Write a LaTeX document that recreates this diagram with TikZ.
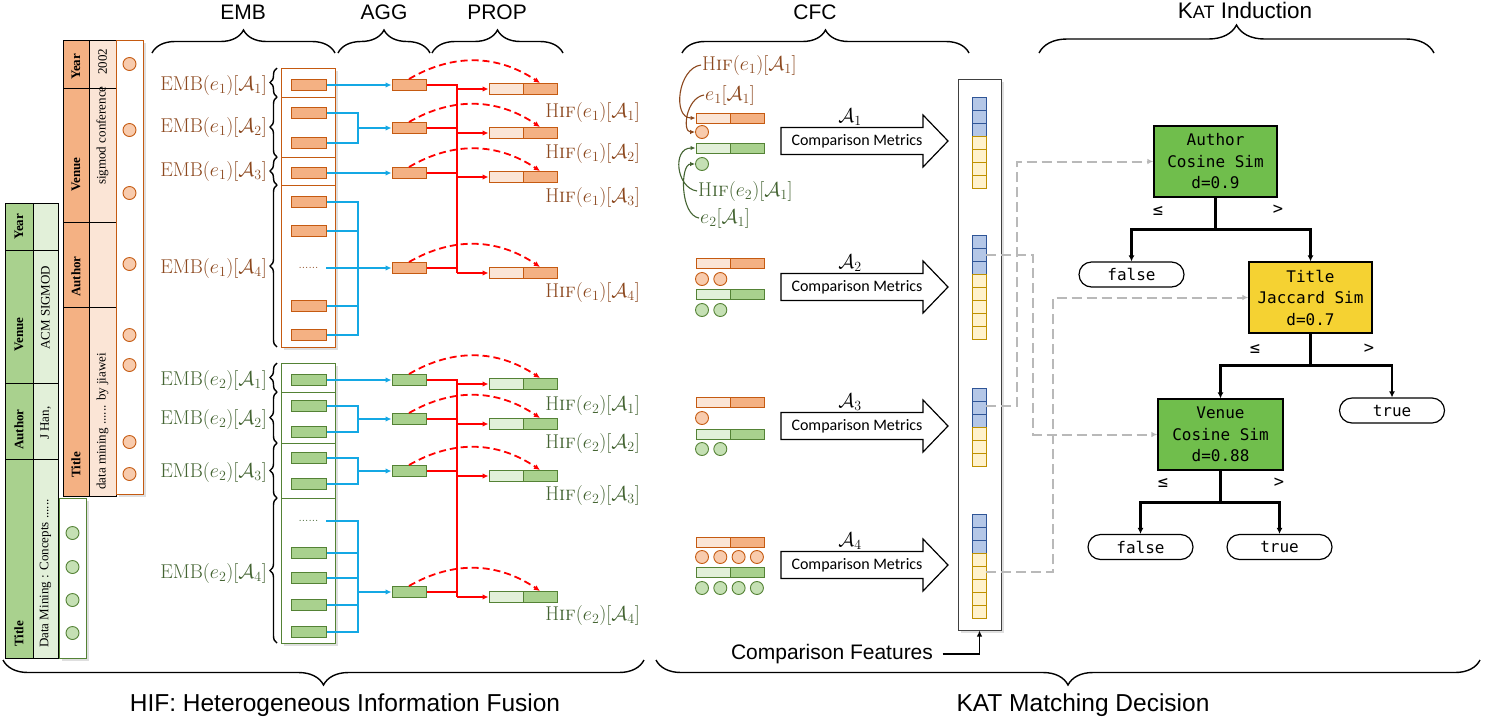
\RequirePackage{fix-cm}
\documentclass[tikz,border=0pt]{standalone}
\usepackage{fontspec}
\setsansfont{Liberation Sans}
\setmonofont{DejaVu Sans Mono}
\newfontfamily\tabfont{Liberation Serif}
\newfontfamily\metricfont{Carlito}
\usetikzlibrary{positioning,arrows.meta,decorations.pathreplacing,shadows}

\definecolor{orgfill}{RGB}{244,177,131}
\definecolor{orgline}{RGB}{197,90,17}
\definecolor{orglight}{RGB}{251,229,214}
\definecolor{orgcirc}{RGB}{248,203,173}
\definecolor{orgtext}{RGB}{140,72,30}
\definecolor{grnfill}{RGB}{169,209,142}
\definecolor{grnline}{RGB}{84,130,53}
\definecolor{grnlight}{RGB}{226,240,217}
\definecolor{grncirc}{RGB}{197,224,180}
\definecolor{grntext}{RGB}{68,100,50}
\definecolor{embblue}{RGB}{20,168,228}
\definecolor{cellblue}{RGB}{180,199,231}
\definecolor{cellblueline}{RGB}{47,85,151}
\definecolor{cellyel}{RGB}{255,242,204}
\definecolor{cellyelline}{RGB}{191,144,0}
\definecolor{treegreen}{RGB}{112,190,76}
\definecolor{treeyellow}{RGB}{245,210,50}
\definecolor{dashgray}{RGB}{185,185,185}

\begin{document}
\begin{tikzpicture}[x=1pt,y=-1pt,
    ovec/.style={draw=orgline,fill=orgfill,line width=1pt,minimum width=35pt,minimum height=11pt,inner sep=0pt},
    gvec/.style={draw=grnline,fill=grnfill,line width=1pt,minimum width=35pt,minimum height=11pt,inner sep=0pt},
    ohalf/.style={ovec,minimum width=34pt},
    ghalf/.style={gvec,minimum width=34pt},
    olite/.style={ohalf,fill=orglight},
    glite/.style={ghalf,fill=grnlight},
    vdots/.style={minimum width=35pt,inner sep=0pt,font=\fontsize{12}{12}\selectfont},
    otok/.style={circle,draw=orgline,fill=orgcirc,line width=0.9pt,minimum size=13pt,inner sep=0pt},
    gtok/.style={circle,draw=grnline,fill=grncirc,line width=0.9pt,minimum size=13pt,inner sep=0pt},
    grpbox/.style={fill=white,line width=0.9pt},
    boxshadow/.style={drop shadow={shadow xshift=2.5pt,shadow yshift=-2.5pt,opacity=0.25}},
    mlbl/.style={inner sep=1pt,font=\fontsize{20}{20}\selectfont},
    hdr/.style={font=\sffamily\fontsize{21}{21}\selectfont},
    foot/.style={font=\sffamily\fontsize{24.5}{24.5}\selectfont},
    thead/.style={rotate=90,anchor=west,inner sep=0pt,font=\tabfont\bfseries\fontsize{13}{13}\selectfont},
    tval/.style={rotate=90,anchor=west,inner sep=0pt,font=\tabfont\fontsize{13}{13}\selectfont},
    sbrace/.style={decorate,decoration={brace,amplitude=7pt},line width=1.4pt},
    hbrace/.style={decorate,decoration={brace,amplitude=23pt},line width=1.4pt},
    blue line/.style={embblue,line width=2pt},
    blue arrow/.style={blue line,-{Latex[length=6pt,width=5.5pt]}},
    red line/.style={red,line width=2.3pt},
    red arrow/.style={red,line width=1.9pt,-{Latex[length=6pt,width=5.5pt]}},
    red arc/.style={red,line width=1.8pt,dash pattern=on 7pt off 4pt,-{Latex[length=6pt,width=5.5pt]}},
    curve arrow/.style={line width=1.1pt,-{Latex[length=5pt,width=4.5pt]}},
    metric/.style={font=\metricfont\fontsize{16}{16}\selectfont,inner sep=0pt},
    bcell/.style={draw=cellblueline,fill=cellblue,line width=0.9pt},
    ycell/.style={draw=cellyelline,fill=cellyel,line width=0.9pt},
    testnode/.style={draw,line width=1.2pt,minimum width=123pt,minimum height=71pt,align=center,font=\ttfamily\fontsize{16}{21.5}\selectfont},
    leaf/.style={draw,fill=white,rounded corners=12.5pt,minimum width=105pt,minimum height=25pt,line width=1.2pt,font=\ttfamily\fontsize{16}{16}\selectfont},
    branch/.style={line width=2.6pt,-{Latex[length=6pt,width=6pt]}},
    cmp/.style={font=\ttfamily\fontsize{17}{17}\selectfont},
    feat/.style={dashgray,line width=2pt,dash pattern=on 10pt off 5pt,-{Latex[length=6pt,width=5.5pt]}}
  ]
  \fill[white] (0,0) rectangle (1485,721);
  \useasboundingbox (0,0) rectangle (1485,721);

  % Headers and braces
  \node[hdr] (hemb) at (243,12) {EMB};
  \node[hdr] (hagg) at (384,12) {AGG};
  \node[hdr] (hprop) at (497,12) {PROP};
  \node[hdr] (hcfc) at (815,12) {CFC};
  \node[hdr,font=\sffamily\fontsize{22.5}{22.5}\selectfont] (hkat) at (1245,10) {K{\fontsize{18}{18}\selectfont AT} Induction};
  \draw[hbrace] (152,53) -- (335,53);
  \draw[hbrace] (338,53) -- (430,53);
  \draw[hbrace] (432,53) -- (563,53);
  \draw[hbrace] (682,53) -- (969,53);
  \draw[hbrace,decoration={amplitude=28pt}] (1039,53) -- (1434,53);
  \draw[hbrace,decoration={amplitude=25pt}] (644,660) -- (3,660);
  \draw[hbrace,decoration={amplitude=25pt}] (1480,660) -- (656,660);
  \node[foot] (fhif) at (345,705) {HIF: Heterogeneous Information Fusion};
  \node[foot] (fkat) at (1083,705) {KAT Matching Decision};

  % Table of e1
  \draw[fill=orgfill,line width=1pt] (63,40) rectangle (89,496);
  \draw[fill=orglight,line width=1pt] (89,40) rectangle (116,496);
  \foreach \yy in {88,222,307} \draw[line width=1pt] (63,\yy) -- (116,\yy);
  \draw[draw=orgline,grpbox,boxshadow] (116,40) rectangle (143,494);
  \node[thead] (ohyear) at (76,80) {Year};
  \node[thead] (ohvenue) at (76,192) {Venue};
  \node[thead] (ohauthor) at (76,297) {Author};
  \node[thead] (ohtitle) at (76,478) {Title};
  \node[tval] (ovyear) at (102.5,75) {2002};
  \node[tval] (ovvenue) at (102.5,185) {sigmod conference};
  \node[tval] (ovtitle) at (102.5,490) {data mining ...... by jiawei};
  \foreach \yy [count=\k] in {64,130,193,264,335,365,442,474}
    \node[otok] (otok\k) at (129.5,\yy) {};

  % Table of e2
  \draw[fill=grnfill,line width=1pt] (5,203) rectangle (33,658);
  \draw[fill=grnlight,line width=1pt] (33,203) rectangle (58,658);
  \foreach \yy in {250,383,459} \draw[line width=1pt] (5,\yy) -- (58,\yy);
  \draw[draw=grnline,grpbox,boxshadow] (59,498) rectangle (86,658);
  \node[thead] (ghyear) at (19,240) {Year};
  \node[thead] (ghvenue) at (19,352) {Venue};
  \node[thead] (ghauthor) at (19,450) {Author};
  \node[thead] (ghtitle) at (19,647) {Title};
  \node[tval] (gvvenue) at (45.5,350) {ACM SIGMOD};
  \node[tval] (gvauthor) at (45.5,440) {J Han,};
  \node[tval] (gvtitle) at (45.5,648) {Data Mining : Concepts ......};
  \foreach \yy [count=\k] in {533,567,600,633}
    \node[gtok] (gtok\k) at (72.5,\yy) {};

  % EMB of e1
  \draw[draw=orgline,grpbox,boxshadow] (281,68) rectangle (335,347);
  \draw[draw=orgline,line width=0.9pt] (281,68) rectangle (335,97) (281,97) rectangle (335,157)
    (281,157) rectangle (335,185) (281,185) rectangle (335,347);
  \node[ovec] (eo11) at (308.5,85) {};
  \node[ovec] (eo21) at (308.5,113) {};
  \node[ovec] (eo22) at (308.5,143) {};
  \node[ovec] (eo31) at (308.5,173) {};
  \node[ovec] (eo41) at (308.5,202) {};
  \node[ovec] (eo42) at (308.5,231) {};
  \node[vdots,text=orgtext] (eo4d) at (308.5,268) {......};
  \node[ovec] (eo43) at (308.5,306) {};
  \node[ovec] (eo44) at (308.5,335) {};
  \draw[sbrace] (277,97) -- (277,68);
  \draw[sbrace] (277,157) -- (277,97);
  \draw[sbrace] (277,185) -- (277,157);
  \draw[sbrace] (277,347) -- (277,185);
  \node[mlbl,anchor=east,text=orgtext] (lo1) at (268,85) {EMB$(e_1)[\mathcal{A}_1]$};
  \node[mlbl,anchor=east,text=orgtext] (lo2) at (268,127) {EMB$(e_1)[\mathcal{A}_2]$};
  \node[mlbl,anchor=east,text=orgtext] (lo3) at (268,171) {EMB$(e_1)[\mathcal{A}_3]$};
  \node[mlbl,anchor=east,text=orgtext] (lo4) at (268,268) {EMB$(e_1)[\mathcal{A}_4]$};

  % EMB of e2
  \draw[draw=grnline,grpbox,boxshadow] (281,363) rectangle (335,643);
  \draw[draw=grnline,line width=0.9pt] (281,363) rectangle (335,392) (281,392) rectangle (335,443)
    (281,443) rectangle (335,498) (281,498) rectangle (335,643);
  \node[gvec] (eg11) at (308.5,380) {};
  \node[gvec] (eg21) at (308.5,406) {};
  \node[gvec] (eg22) at (308.5,432) {};
  \node[gvec] (eg31) at (308.5,458) {};
  \node[gvec] (eg32) at (308.5,484) {};
  \node[vdots,text=grntext] (eg4d) at (308.5,521) {......};
  \node[gvec] (eg41) at (308.5,553) {};
  \node[gvec] (eg42) at (308.5,578) {};
  \node[gvec] (eg43) at (308.5,605) {};
  \node[gvec] (eg44) at (308.5,632) {};
  \draw[sbrace] (277,392) -- (277,363);
  \draw[sbrace] (277,443) -- (277,392);
  \draw[sbrace] (277,498) -- (277,443);
  \draw[sbrace] (277,643) -- (277,498);
  \node[mlbl,anchor=east,text=grntext] (lg1) at (268,380) {EMB$(e_2)[\mathcal{A}_1]$};
  \node[mlbl,anchor=east,text=grntext] (lg2) at (268,419) {EMB$(e_2)[\mathcal{A}_2]$};
  \node[mlbl,anchor=east,text=grntext] (lg3) at (268,472) {EMB$(e_2)[\mathcal{A}_3]$};
  \node[mlbl,anchor=east,text=grntext] (lg4) at (268,573) {EMB$(e_2)[\mathcal{A}_4]$};

  % AGG
  \node[ohalf] (ao1) at (409,85) {};
  \node[ohalf] (ao2) at (409,128) {};
  \node[ohalf] (ao3) at (409,173) {};
  \node[ohalf] (ao4) at (409,268) {};
  \node[ghalf] (ag1) at (409,380) {};
  \node[ghalf] (ag2) at (409,419) {};
  \node[ghalf] (ag3) at (409,471) {};
  \node[ghalf] (ag4) at (409,592) {};
  \coordinate (jo2) at (358,128);
  \coordinate (jo4) at (358,268);
  \coordinate (jg2) at (358,419);
  \coordinate (jg3) at (358,471);
  \coordinate (jg4) at (358,592);
  \draw[blue arrow] (eo11.east) -- (ao1.west);
  \draw[blue arrow] (eo31.east) -- (ao3.west);
  \draw[blue arrow] (eg11.east) -- (ag1.west);
  \foreach \r in {eo21,eo22} \draw[blue line] (\r.east) -| (jo2);
  \foreach \r in {eo41,eo42,eo4d,eo43,eo44} \draw[blue line] (\r.east) -| (jo4);
  \foreach \r in {eg21,eg22} \draw[blue line] (\r.east) -| (jg2);
  \foreach \r in {eg31,eg32} \draw[blue line] (\r.east) -| (jg3);
  \foreach \r in {eg4d,eg41,eg42,eg43,eg44} \draw[blue line] (\r.east) -| (jg4);
  \draw[blue arrow] (jo2) -- (ao2.west);
  \draw[blue arrow] (jo4) -- (ao4.west);
  \draw[blue arrow] (jg2) -- (ag2.west);
  \draw[blue arrow] (jg3) -- (ag3.west);
  \draw[blue arrow] (jg4) -- (ag4.west);

  % PROP
  \foreach \yy [count=\i] in {89,133,177,273} {
    \node[olite] (pol\i) at (506,\yy) {};
    \node[ohalf] (por\i) at (540,\yy) {};
  }
  \foreach \yy [count=\i] in {384,424,476,597} {
    \node[glite] (pgl\i) at (506,\yy) {};
    \node[ghalf] (pgr\i) at (540,\yy) {};
  }
  \coordinate (rto) at (457,273);
  \coordinate (rtg) at (457,597);
  \foreach \i in {1,...,4} {
    \draw[red line] (ao\i.east) -| (rto);
    \draw[red arrow] (pol\i.west -| rto) -- (pol\i.west);
    \draw[red arc] (ao\i.north) to[bend left=32] (por\i.north);
    \draw[red line] (ag\i.east) -| (rtg);
    \draw[red arrow] (pgl\i.west -| rtg) -- (pgl\i.west);
    \draw[red arc] (ag\i.north) to[bend left=32] (pgr\i.north);
  }
  \foreach \yy [count=\i] in {112,153,197,292}
    \node[mlbl,anchor=east,text=orgtext] (ho\i) at (641,\yy) {H\textsc{if}$(e_1)[\mathcal{A}_{\i}]$};
  \foreach \yy [count=\i] in {405,443,495,615}
    \node[mlbl,anchor=east,text=grntext] (hg\i) at (641,\yy) {H\textsc{if}$(e_2)[\mathcal{A}_{\i}]$};

  % CFC
  \foreach \yo/\yt/\yg/\yu/\no/\ng [count=\a] in {118/132/148/164/1/1,263/279/294/310/2/2,402/418/434/449/1/2,542/557/572/588/4/4} {
    \node[olite,minimum height=10pt] (cfol\a) at (713,\yo) {};
    \node[ohalf,minimum height=10pt] (cfor\a) at (747,\yo) {};
    \node[glite,minimum height=10pt] (cfgl\a) at (713,\yg) {};
    \node[ghalf,minimum height=10pt] (cfgr\a) at (747,\yg) {};
    \foreach \k in {1,...,\no} \node[otok] (cto\a-\k) at ({702+18.3*(\k-1)},\yt) {};
    \foreach \k in {1,...,\ng} \node[gtok] (ctg\a-\k) at ({702+18.3*(\k-1)},\yu) {};
  }
  \node[mlbl,anchor=west,text=orgtext] (ch1) at (701,65) {H\textsc{if}$(e_1)[\mathcal{A}_1]$};
  \node[mlbl,anchor=west,text=orgtext] (cx1) at (704,95) {$e_1[\mathcal{A}_1]$};
  \node[mlbl,anchor=west,text=grntext] (ch2) at (697,191) {H\textsc{if}$(e_2)[\mathcal{A}_1]$};
  \node[mlbl,anchor=west,text=grntext] (cx2) at (699,218) {$e_2[\mathcal{A}_1]$};
  \draw[curve arrow,orgtext] (ch1.west) .. controls (678,68) and (672,118) .. (cfol1.west);
  \draw[curve arrow,orgtext] (cx1.west) .. controls (686,98) and (682,132) .. (cto1-1.west);
  \draw[curve arrow,grntext] (ch2.west) .. controls (676,188) and (672,148) .. (cfgl1.west);
  \draw[curve arrow,grntext] (cx2.west) .. controls (680,215) and (680,164) .. (ctg1-1.west);
  \foreach \yy [count=\a] in {141,287,426,565} {
    \draw[fill=white,line width=1.2pt] (781,\yy-13.5) -- (923,\yy-13.5) -- (923,\yy-26) -- (948,\yy)
      -- (923,\yy+26) -- (923,\yy+13.5) -- (781,\yy+13.5) -- cycle;
    \node[metric] (cm\a) at (857,\yy) {Comparison Metrics};
    \node[mlbl] (ca\a) at (850,\yy-24) {$\mathcal{A}_{\a}$};
  }

  % Comparison features
  \node[draw=black!75,fill=white,boxshadow,line width=1pt,minimum width=43pt,minimum height=551pt,inner sep=0pt] (col) at (979.5,354.5) {};
  \foreach \top/\ny in {97/4,235/5,388/3,514/5} {
    \foreach \k in {0,1,2} \draw[bcell] (972,\top+13*\k) rectangle ++(14,13);
    \foreach \k in {1,...,\ny} \draw[ycell] (972,\top+26+13*\k) rectangle ++(14,13);
  }
  \node[font=\sffamily\fontsize{21}{21}\selectfont] (cf) at (832,654) {Comparison Features};
  \draw[line width=1.8pt,-{Latex[length=6pt,width=5.5pt]}] ([xshift=6pt]cf.east) -| (col.south);

  % KAT tree
  \node[testnode,fill=treegreen] (author) at (1215.5,161.5) {Author\\Cosine Sim\\d=0.9};
  \node[leaf] (false1) at (1131.5,274.5) {false};
  \node[testnode,fill=treeyellow] (title) at (1310.5,297.5) {Title\\Jaccard Sim\\d=0.7};
  \node[leaf] (true1) at (1392,410.5) {true};
  \node[testnode,fill=treegreen,minimum width=125pt] (venue) at (1220.5,434.5) {Venue\\Cosine Sim\\d=0.88};
  \node[leaf] (false2) at (1140.5,547) {false};
  \node[leaf] (true2) at (1279.5,547) {true};
  \draw[branch] (author.south) -- ++(0,32) -| (false1.north);
  \draw[branch] (author.south) -- ++(0,32) -| (title.north);
  \draw[branch] (title.south) -- ++(0,32) -| (venue.north);
  \draw[branch] (title.south) -- ++(0,32) -| (true1.north);
  \draw[branch] (venue.south) -- ++(0,32) -| (false2.north);
  \draw[branch] (venue.south) -- ++(0,32) -| (true2.north);
  \node[cmp] (le1) at (1158,211) {≤};
  \node[cmp] (gt1) at (1278,210) {>};
  \node[cmp] (le2) at (1255,349) {≤};
  \node[cmp] (gt2) at (1369,349) {>};
  \node[cmp] (le3) at (1163,483) {≤};
  \node[cmp] (gt3) at (1279,483) {>};
  \coordinate (f2) at (986,255);
  \coordinate (f3) at (986,406);
  \coordinate (f4) at (986,572);
  \draw[feat] (f3) -- ++(31,0) |- (author.west);
  \draw[feat] (f2) -- ++(47,0) |- (venue.west);
  \draw[feat] (f4) -- ++(67,0) |- (title.west);
\end{tikzpicture}
\end{document}
